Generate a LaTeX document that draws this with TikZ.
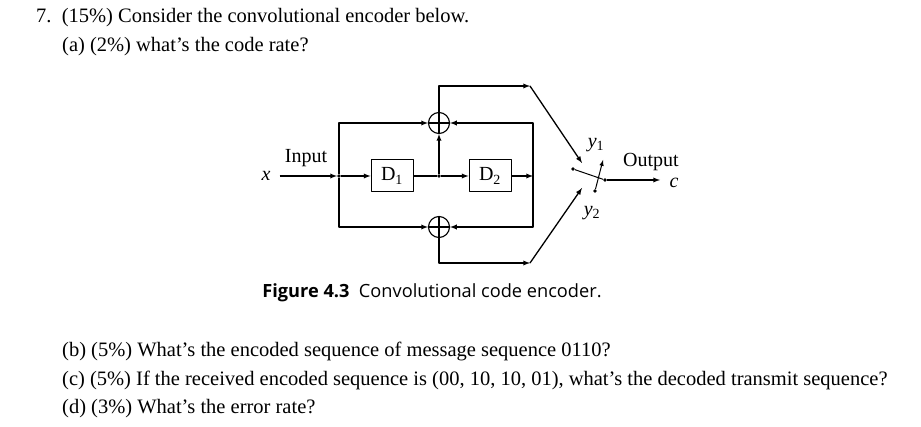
\documentclass[tikz,border=0pt]{standalone}
\usepackage{fontspec}
\setmainfont{Liberation Serif}
\newfontfamily\capfont{Open Sans}
\usetikzlibrary{positioning}
\begin{document}
\begin{tikzpicture}[x=1pt,y=-1pt,>=latex,line join=bevel,
  wire/.style={line width=1.3pt},
  dot/.style={circle,fill,inner sep=1.3pt},
  reg/.style={draw,line width=1pt,minimum width=42pt,minimum height=32pt,inner sep=0pt,font=\fontsize{20}{20}\selectfont},
  xorc/.style={draw,circle,line width=1.1pt,minimum size=21pt,inner sep=0pt},
  txt/.style={anchor=west,font=\fontsize{20.5}{20.5}\selectfont,inner sep=0pt},
  lbl/.style={font=\fontsize{20}{20}\selectfont,inner sep=0pt}]
\useasboundingbox (0,0) rectangle (921,427);
%% question text
\node[txt] at (36,18) {7.\ \ (15\%) Consider the convolutional encoder below.};
\node[txt] at (62,47) {(a) (2\%) what's the code rate?};
\node[txt] at (62,351) {(b) (5\%) What's the encoded sequence of message sequence 0110?};
\node[txt] at (62,380) {(c) (5\%) If the received encoded sequence is (00, 10, 10, 01), what's the decoded transmit sequence?};
\node[txt] at (62,409) {(d) (3\%) What's the error rate?};
%% encoder
\node[lbl,inner xsep=9pt] (x) at (266,176) {\textit{x}};
\node[lbl] (in) at (306,158) {Input};
\node[dot] (j0) at (339,176) {};
\node[reg] (d1) at (392,176) {D\textsubscript{1}};
\node[dot] (j1) at (439,176) {};
\node[reg] (d2) at (490,176) {D\textsubscript{2}};
\coordinate (r) at (533,176);
\node[xorc] (s1) at (439,123) {};
\node[xorc] (s2) at (439,227) {};
\draw[wire] (s1.north)--(s1.south) (s1.west)--(s1.east);
\draw[wire] (s2.north)--(s2.south) (s2.west)--(s2.east);
\coordinate (t1) at (530,86);
\coordinate (t2) at (530,263);
\node[dot] (sw) at (573,169) {};
\node[dot] (pv) at (595,191) {};
\node[dot] (o) at (605,180) {};
\coordinate (c0) at (660,180);
\node[lbl] (c) at (674,183) {\textit{c}};
\node[lbl] (out) at (651,162) {Output};
\node[lbl] (y1) at (596,145) {\textit{y}\textsubscript{1}};
\node[lbl] (y2) at (592,213) {\textit{y}\textsubscript{2}};
% connectors
\draw[wire,->] (x)--(j0);
\draw[wire,->] (j0)--(d1);
\draw[wire] (d1)--(j1);
\draw[wire,->] (j1)--(d2);
\draw[wire,->] (d2)--(r);
\draw[wire,->] (j0)|-(s1.west);
\draw[wire,->] (j0)|-(s2.west);
\draw[wire,->] (r)|-(s1.east);
\draw[wire,->] (r)|-(s2.east);
\draw[wire,->] (j1)--(s1.south);
\draw[wire,->] (s1.north)|-(t1);
\draw[wire,->] (s2.south)|-(t2);
\draw[wire,->] (t1)--(582,163);
\draw[wire,->] (t2)--(582,188);
\draw[line width=1pt] (sw)--(o);
\draw[line width=1pt,->] (pv)--(603,160);
\draw[wire,->] (o)--(c0);
%% caption
\node[font=\capfont\fontsize{18.2}{18.2}\selectfont,inner sep=0pt] (cap) at (432,293) {\textbf{Figure 4.3}\ \ Convolutional code encoder.};
\end{tikzpicture}
\end{document}
